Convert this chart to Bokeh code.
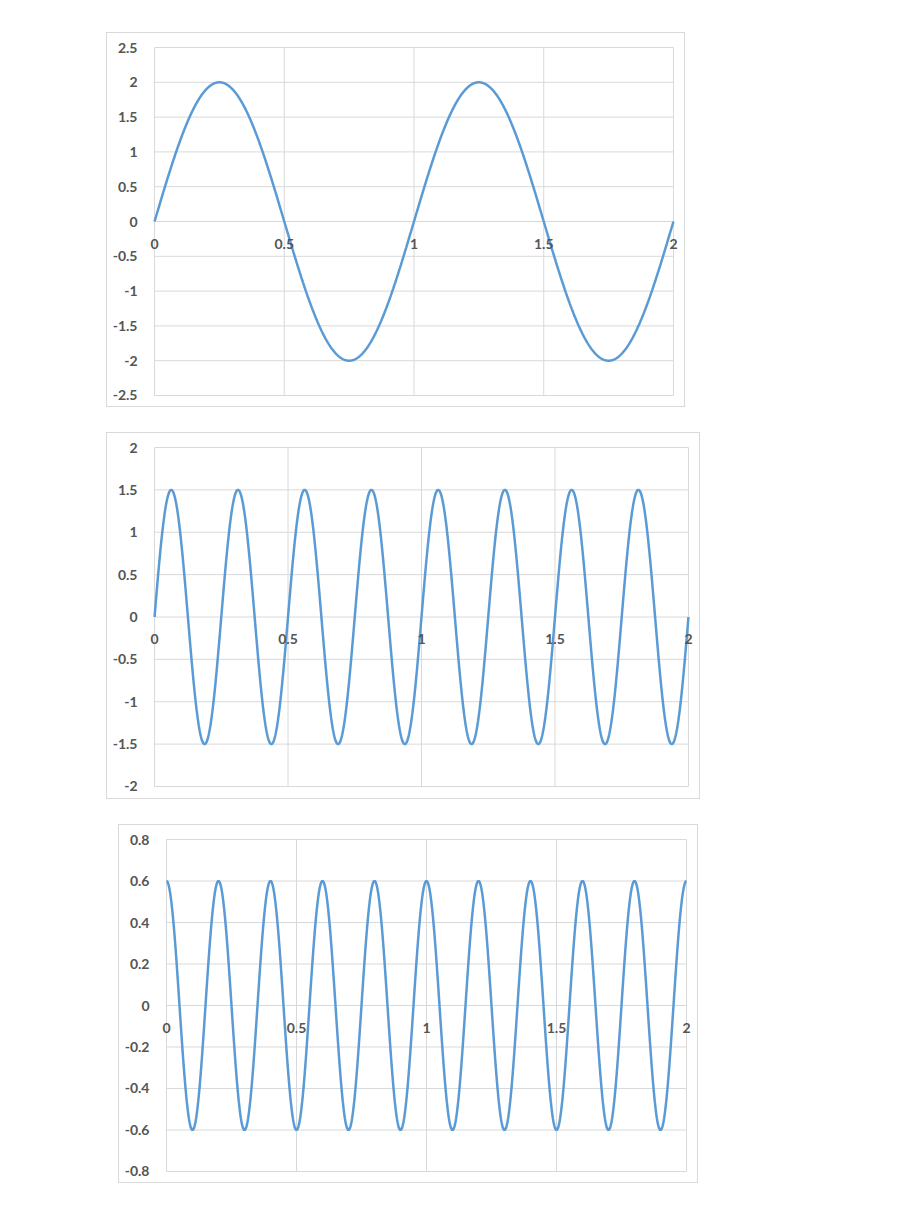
import numpy as np
from bokeh.plotting import figure
from bokeh.layouts import column
from bokeh.models import FixedTicker, CustomJSTickFormatter, Range1d, LabelSet, ColumnDataSource
from bokeh.core.properties import value
from bokeh.embed import file_html
from bokeh.resources import INLINE

# ---- data ----
x_start, x_end = 0.0, 2.0
x_ticks = [0, 0.5, 1, 1.5, 2]
x_tick_labels = ["0", "0.5", "1", "1.5", "2"]

# chart 1: 2*sin(2*pi*1*x)
amp1, freq1, wave1 = 2.0, 1.0, "sin"
y_ticks1 = [-2.5, -2, -1.5, -1, -0.5, 0, 0.5, 1, 1.5, 2, 2.5]

# chart 2: 1.5*sin(2*pi*4*x)
amp2, freq2, wave2 = 1.5, 4.0, "sin"
y_ticks2 = [-2, -1.5, -1, -0.5, 0, 0.5, 1, 1.5, 2]

# chart 3: 0.6*cos(2*pi*5*x)
amp3, freq3, wave3 = 0.6, 5.0, "cos"
y_ticks3 = [-0.8, -0.6, -0.4, -0.2, 0, 0.2, 0.4, 0.6, 0.8]

sample_step = 0.002

LINE = "#5b9bd5"
GRID = "#d9d9d9"
TXT = "#555555"
FONT = "Lato"
FSIZE = "14px"
PADX, PADY = 10, 2   # px of frame kept around the plot area so edge labels are not clipped


def curve(amp, freq, wave):
    xs = np.arange(x_start, x_end + sample_step / 2, sample_step)
    f = np.sin if wave == "sin" else np.cos
    return xs, amp * f(2 * np.pi * freq * xs)


def make(amp, freq, wave, yticks, w, h, area, margin):
    left, top, right, bottom = area          # plot-area offsets inside the chart box
    inner_w, inner_h = w - 2, h - 2
    data_w = inner_w - left - right
    data_h = inner_h - top - bottom
    y_start, y_end = yticks[0], yticks[-1]
    ux = (x_end - x_start) / data_w
    uy = (y_end - y_start) / data_h
    p = figure(width=w, height=h, output_backend="svg", toolbar_location=None,
               x_range=Range1d(x_start - PADX * ux, x_end + PADX * ux),
               y_range=Range1d(y_start - PADY * uy, y_end + PADY * uy),
               min_border_left=left - PADX, min_border_top=top - PADY,
               min_border_right=right - PADX, min_border_bottom=bottom - PADY,
               margin=margin)
    p.styles = {"border": "1px solid " + GRID, "box-sizing": "border-box"}
    p.background_fill_color = "white"
    p.border_fill_color = "white"
    p.outline_line_color = None
    p.grid.visible = False
    p.xaxis.visible = False

    fmt = CustomJSTickFormatter(code="return String(Math.round(tick*100)/100);")
    p.yaxis.ticker = FixedTicker(ticks=yticks)
    p.yaxis.formatter = fmt
    p.yaxis.axis_line_color = None
    p.yaxis.major_tick_line_color = None
    p.yaxis.minor_tick_line_color = None
    p.yaxis.major_label_standoff = 1
    p.yaxis.major_label_text_font = FONT
    p.yaxis.major_label_text_font_style = "bold"
    p.yaxis.major_label_text_font_size = FSIZE
    p.yaxis.major_label_text_color = TXT

    # gridlines limited to the plot area (Excel style)
    p.segment(x0=x_ticks, x1=x_ticks, y0=[y_start] * len(x_ticks), y1=[y_end] * len(x_ticks),
              line_color=GRID, line_width=1)
    p.segment(x0=[x_start] * len(yticks), x1=[x_end] * len(yticks), y0=yticks, y1=yticks,
              line_color=GRID, line_width=1)

    xs, ys = curve(amp, freq, wave)
    p.line(xs, ys, line_color=LINE, line_width=2.5)

    # x tick labels sitting just below the zero line (axis crosses at 0)
    src = ColumnDataSource(dict(x=x_ticks, y=[0] * len(x_ticks), t=x_tick_labels))
    labels = LabelSet(x="x", y="y", text="t", source=src, y_offset=-22,
                      text_align="center", text_baseline="middle",
                      text_font=value(FONT), text_font_style="bold",
                      text_font_size=FSIZE, text_color=TXT)
    p.add_layout(labels)
    return p


p1 = make(amp1, freq1, wave1, y_ticks1, 579, 375, (47, 14, 13, 13), (32, 0, 0, 106))
p2 = make(amp2, freq2, wave2, y_ticks2, 594, 367, (47, 14, 13, 14), (25, 0, 0, 106))
p3 = make(amp3, freq3, wave3, y_ticks3, 580, 359, (45, 14, 13, 13), (25, 0, 0, 118))

layout = column(p1, p2, p3)
open("out.html", "w").write(file_html(layout, INLINE))
